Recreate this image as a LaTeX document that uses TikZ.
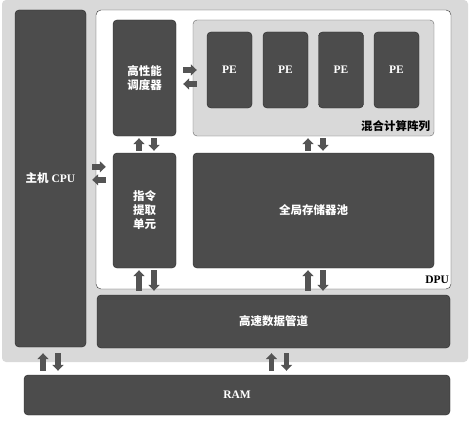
\documentclass[tikz,border=0pt]{standalone}
\usepackage{fontspec}
\setmainfont{Liberation Serif}
\newfontfamily\cjk{Noto Sans CJK SC}
\usetikzlibrary{arrows.meta}

\begin{document}
\begin{tikzpicture}[x=1pt,y=-1pt,
    box/.style = {draw=black!85, fill=black!70, rounded corners=4pt, text=white, align=center, inner sep=0pt,
                  font=\bfseries\fontsize{11.5}{14}\selectfont},
    cn/.style = {font=\cjk\bfseries\fontsize{11.5}{14}\selectfont},
    pe/.style = {box, minimum width=45pt, minimum height=76pt},
    blk/.style = {draw=black!67, line width=5.5pt, -{Triangle[width=11pt,length=6pt]}, shorten <=2pt, shorten >=2pt}]
  \useasboundingbox (0,0) rectangle (474,428);

  % frames
  \node[fill=black!15, rounded corners=4pt, minimum width=466pt, minimum height=362pt, inner sep=0pt] (bg) at (235,181) {};
  \node[box, minimum width=71pt, minimum height=337pt] (cpu) at (50.5,178.5) {{\cjk 主机} CPU};
  \node[draw=black!80, fill=white, rounded corners=5pt, minimum width=355pt, minimum height=279pt, inner sep=0pt] (dpu) at (273.5,149.5) {};
  \node[font=\bfseries\fontsize{11.5}{13}\selectfont, anchor=south east, inner sep=1pt] (dpulbl) at ([xshift=-1pt,yshift=4pt]dpu.south east) {DPU};

  % DPU inside
  \node[box, cn, minimum width=63pt, minimum height=116pt] (sch) at (144.5,78) {高性能\\调度器};
  \node[fill=black!15, draw=black!60, rounded corners=4pt, minimum width=241pt, minimum height=116pt, inner sep=0pt] (mix) at (313.5,78) {};
  \node[cn, anchor=south east, inner sep=1pt] (mixlbl) at ([xshift=-3pt,yshift=3pt]mix.south east) {混合计算阵列};
  \foreach \i/\x in {1/229.5,2/285.5,3/341,4/396.5}
    \node[pe] (pe\i) at (\x,70) {PE};
  \node[box, cn, minimum width=63pt, minimum height=115pt] (ifu) at (144.5,210.5) {指令\\提取\\单元};
  \node[box, cn, minimum width=241pt, minimum height=115pt] (mem) at (313.5,210.5) {全局存储器池};

  % outside DPU
  \node[box, cn, minimum width=353pt, minimum height=53pt] (pipe) at (273.5,321.5) {高速数据管道};
  \node[box, minimum width=426pt, minimum height=40pt] (ram) at (237,395) {RAM};

  % arrows
  \draw[blk, shorten <=7pt, shorten >=-4pt] ([yshift=8pt]sch.east) -- ([yshift=8pt]mix.west);
  \draw[blk, shorten <=-4pt, shorten >=7pt] ([yshift=-6pt]mix.west) -- ([yshift=-6pt]sch.east);
  \draw[blk] ([xshift=-5.5pt]ifu.north) -- ([xshift=-5.5pt]sch.south);
  \draw[blk] ([xshift=9.5pt]sch.south) -- ([xshift=9.5pt]ifu.north);
  \draw[blk] ([xshift=-5.5pt]mem.north) -- ([xshift=-5.5pt]mix.south);
  \draw[blk] ([xshift=9.5pt]mix.south) -- ([xshift=9.5pt]mem.north);
  \coordinate (c1) at ([yshift=-14pt]ifu.north west);
  \coordinate (c2) at ([yshift=-27pt]ifu.north west);
  \draw[blk, shorten <=6pt, shorten >=7pt] (cpu.east |- c1) -- (c1);
  \draw[blk, shorten <=7pt, shorten >=6pt] (c2) -- (cpu.east |- c2);
  \draw[blk, shorten <=4pt] ([xshift=-5.5pt]ifu.south |- pipe.north) -- ([xshift=-5.5pt]ifu.south);
  \draw[blk, shorten >=4pt] ([xshift=9.5pt]ifu.south) -- ([xshift=9.5pt]ifu.south |- pipe.north);
  \draw[blk, shorten <=4pt] ([xshift=-5.5pt]mem.south |- pipe.north) -- ([xshift=-5.5pt]mem.south);
  \draw[blk, shorten >=4pt] ([xshift=9.5pt]mem.south) -- ([xshift=9.5pt]mem.south |- pipe.north);
  \draw[blk, shorten <=4pt, shorten >=6pt] ([xshift=-7.5pt]cpu.south |- ram.north) -- ([xshift=-7.5pt]cpu.south);
  \draw[blk, shorten <=6pt, shorten >=4pt] ([xshift=7.5pt]cpu.south) -- ([xshift=7.5pt]cpu.south |- ram.north);
  \draw[blk, shorten <=4pt, shorten >=5pt] ([xshift=-2pt]pipe.south |- ram.north) -- ([xshift=-2pt]pipe.south);
  \draw[blk, shorten <=5pt, shorten >=4pt] ([xshift=13pt]pipe.south) -- ([xshift=13pt]pipe.south |- ram.north);
\end{tikzpicture}
\end{document}
